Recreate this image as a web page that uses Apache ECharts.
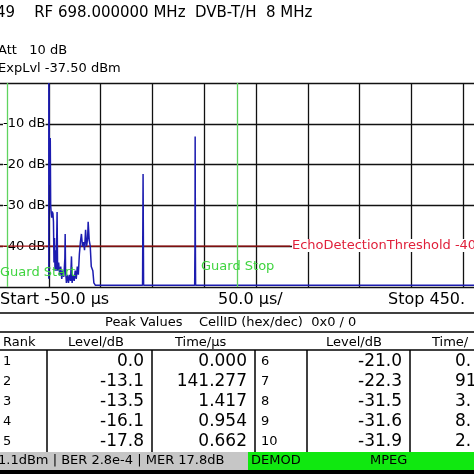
<!DOCTYPE html>
<html>
<head>
<meta charset="utf-8">
<script src="https://cdn.jsdelivr.net/npm/echarts@6/dist/echarts.min.js"></script>
<style>html,body{margin:0;padding:0;background:#fff}#c{width:474px;height:474px}</style>
</head>
<body>
<div id="c"></div>
<script>
// impulse response trace: [time µs, level dB]
const trace = [
  [0,-48],[0,0],[0.3,-2],[0.5,-21],[0.66,-17.8],[0.8,-25],[0.954,-16.1],[1.1,-20],[1.417,-13.5],
  [1.8,-30],[2.3,-31.9],[2.8,-33],[3.3,-31.5],[4,-32],[4.5,-34],[5,-44],[5.5,-38],[6,-46],[6.5,-41],
  [7.2,-46],[8.0,-31.6],[8.5,-46],[9.5,-44],[10.5,-47],[11.5,-45],[12.5,-48],[13.5,-46],[14.5,-47.5],
  [15.5,-43],[15.8,-37],[16.2,-46],[17,-49],[18,-47],[19,-49],[20,-47],[21,-48.5],[21.9,-42.5],
  [22.5,-49],[23.5,-47],[24.5,-48.5],[25.5,-46],[26.5,-48],[27.5,-45],[28.5,-47],[29.5,-42],
  [30.5,-39],[31.5,-37],[32.5,-40],[33.5,-39],[34.5,-41],[35.5,-36],[36.5,-40],[37.5,-38],[38,-34],
  [39,-38.5],[40,-40],[41,-45],[42.5,-46],[43.5,-49],[45,-49.6],[90.5,-49.6],[91,-22.3],[91.5,-49.6],
  [140.8,-49.6],[141.1,-39.5],[141.277,-13.1],[141.5,-39.5],[141.7,-49.6],[450,-49.6]
];
const guardStart = -40.5;
const guardStop = 181.5;
const threshold = [[-50, -40], [233, -40]];
const yTicks = [-10, -20, -30, -40];

const tableHeader = ['Rank', 'Level/dB', 'Time/µs', '', 'Level/dB', 'Time/'];
const ranksLeft = ['1', '2', '3', '4', '5'];
const levelsLeft = ['0.0', '-13.1', '-13.5', '-16.1', '-17.8'];
const timesLeft = ['0.000', '141.277', '1.417', '0.954', '0.662'];
const ranksRight = ['6', '7', '8', '9', '10'];
const levelsRight = ['-21.0', '-22.3', '-31.5', '-31.6', '-31.9'];
const timesRight = ['0.', '91.', '3.', '8.', '2.'];

const F = 'DejaVu Sans';
const txt = (x, y, s, size, color, bg) => ({
  type: 'text', left: x, top: y, z: 100,
  style: { text: s, font: size + 'px "' + F + '"', fill: color || '#000', backgroundColor: bg }
});
const at = (x, y, s, size, align) => ({
  type: 'text', x: x, y: y,
  style: { text: s, font: size + 'px "' + F + '"', fill: '#000', align: align, verticalAlign: 'middle' }
});
const line = (x1, y1, x2, y2, c, w) => ({
  type: 'line', shape: { x1, y1, x2, y2 }, style: { stroke: c || '#000', lineWidth: w || 1 }
});

const g = [];
g.push(txt(-4, 6, '49    RF 698.000000 MHz  DVB-T/H  8 MHz', 15));
g.push(txt(-2, 44, 'Att   10 dB', 13));
g.push(txt(-2, 62, 'ExpLvl -37.50 dBm', 13));
g.push(txt(0, 266, 'Guard Start', 13, '#3fd43f'));
g.push(txt(201, 260, 'Guard Stop', 13, '#3fd43f'));
g.push(txt(292, 239, 'EchoDetectionThreshold -40 dB', 13, '#e0203a', '#fff'));
g.push(txt(0, 292, 'Start -50.0 µs', 16));
g.push(txt(218, 292, '50.0 µs/', 16));
g.push(txt(388, 292, 'Stop 450.', 16));
g.push(line(0, 313, 474, 313, '#000', 1.5));
g.push(txt(105, 316, 'Peak Values    CellID (hex/dec)  0x0 / 0', 13));
g.push(line(0, 332, 474, 332, '#000', 1.5));
g.push(txt(3, 336, tableHeader[0], 13));
g.push(txt(68, 336, tableHeader[1], 13));
g.push(txt(175, 336, tableHeader[2], 13));
g.push(txt(326, 336, tableHeader[4], 13));
g.push(txt(432, 336, tableHeader[5], 13));
g.push(line(0, 350, 474, 350, '#000', 1.5));
[47, 152, 255, 307, 410].forEach(x => g.push(line(x, 350, x, 452, '#000', 1.5)));
for (let i = 0; i < 5; i++) {
  const y = 362 + i * 19.8;
  g.push(at(3, y, ranksLeft[i], 13, 'left'));
  g.push(at(144, y, levelsLeft[i], 17, 'right'));
  g.push(at(247, y, timesLeft[i], 17, 'right'));
  g.push(at(261, y, ranksRight[i], 13, 'left'));
  g.push(at(402, y, levelsRight[i], 17, 'right'));
  g.push(at(455, y, timesRight[i], 17, 'left'));
}
g.push({ type: 'rect', shape: { x: 0, y: 452, width: 248, height: 18 }, style: { fill: '#c6c6c6' } });
g.push({ type: 'rect', shape: { x: 248, y: 452, width: 226, height: 18 }, style: { fill: '#10e810' } });
g.push({ type: 'rect', shape: { x: 0, y: 470, width: 474, height: 4 }, style: { fill: '#000' } });
g.push(txt(-2, 454, '1.1dBm | BER 2.8e-4 | MER 17.8dB', 13));
g.push(txt(251, 454, 'DEMOD', 13));
g.push(txt(370, 454, 'MPEG', 13));

const chart = echarts.init(document.getElementById('c'));
chart.setOption({
  animation: false,
  backgroundColor: '#fff',
  grid: { left: -3, top: 83, width: 518, height: 204, outerBoundsMode: 'none', containLabel: false },
  xAxis: {
    type: 'value', min: -50, max: 450, interval: 50,
    axisLine: { show: false }, axisTick: { show: false }, axisLabel: { show: false },
    splitLine: { lineStyle: { color: '#111', width: 1.3 } }
  },
  yAxis: {
    type: 'value', min: -50, max: 0, interval: 10,
    axisLine: { show: false }, axisTick: { show: false },
    axisLabel: {
      inside: true, margin: 6, color: '#000', fontFamily: F, fontSize: 13,
      backgroundColor: '#fff',
      formatter: v => yTicks.indexOf(v) >= 0 ? v + ' dB' : ''
    },
    splitLine: { lineStyle: { color: '#111', width: 1.3 } }
  },
  series: [{
    type: 'line', data: threshold, showSymbol: false, z: 2,
    lineStyle: { color: '#a01010', width: 1.3 }
  }, {
    type: 'line', data: trace, showSymbol: false, z: 3,
    lineStyle: { color: '#1c1cb0', width: 1.5 },
    markLine: {
      silent: true, symbol: 'none', animation: false,
      label: { show: false },
      lineStyle: { color: '#5fd45f', width: 1.3, type: 'solid' },
      data: [{ xAxis: guardStart }, { xAxis: guardStop }]
    }
  }],
  graphic: g
});
</script>
</body>
</html>
